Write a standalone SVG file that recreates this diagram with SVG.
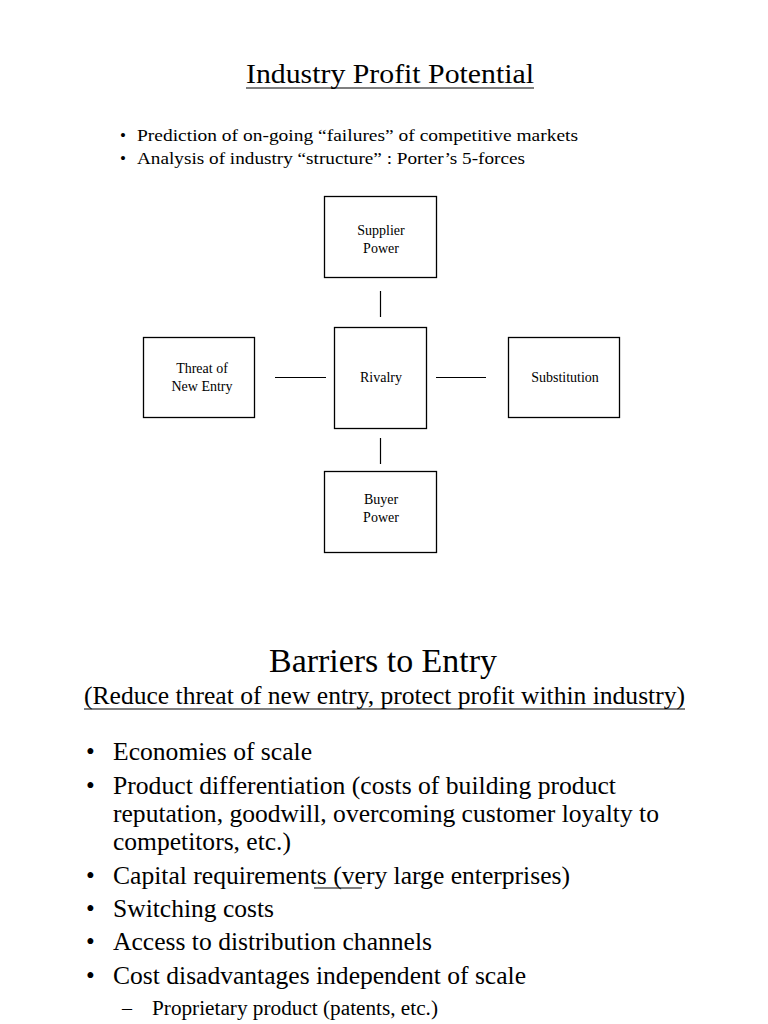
<svg xmlns="http://www.w3.org/2000/svg" width="768" height="1024" viewBox="0 0 768 1024">
<style>
text{font-family:"Liberation Serif",serif;fill:#000}
.box{fill:#fff;stroke:#000;stroke-width:1.3}
.s{font-size:14px;text-anchor:middle}
.b{font-size:17px}
.l{font-size:25px}
line{stroke:#000;stroke-width:1.2}
</style>
<rect width="768" height="1024" fill="#fff"/>
<text x="246" y="83" font-size="27" textLength="288" lengthAdjust="spacingAndGlyphs">Industry Profit Potential</text>
<line x1="246" y1="88" x2="534" y2="88"/>
<text class="b" x="120" y="141">•</text><text class="b" x="137" y="141" textLength="441" lengthAdjust="spacingAndGlyphs">Prediction of  on-going “failures” of competitive markets</text>
<text class="b" x="120" y="164">•</text><text class="b" x="137" y="164" textLength="388" lengthAdjust="spacingAndGlyphs">Analysis of industry “structure” : Porter’s 5-forces</text>
<g id="supplier"><rect class="box" x="324.5" y="196.5" width="112" height="81"/><text class="s" x="381" y="235">Supplier</text><text class="s" x="381" y="253">Power</text></g>
<g id="threat"><rect class="box" x="143.5" y="337.5" width="111" height="80"/><text class="s" x="202" y="373">Threat of</text><text class="s" x="202" y="391">New Entry</text></g>
<g id="rivalry"><rect class="box" x="334.5" y="327.5" width="92" height="101"/><text class="s" x="381" y="382">Rivalry</text></g>
<g id="substitution"><rect class="box" x="508.5" y="337.5" width="111" height="80"/><text class="s" x="565" y="382">Substitution</text></g>
<g id="buyer"><rect class="box" x="324.5" y="471.5" width="112" height="81"/><text class="s" x="381" y="504">Buyer</text><text class="s" x="381" y="522">Power</text></g>
<g id="connectors">
<line x1="380.5" y1="291" x2="380.5" y2="317"/>
<line x1="380.5" y1="438" x2="380.5" y2="464"/>
<line x1="275" y1="377.5" x2="326" y2="377.5"/>
<line x1="436" y1="377.5" x2="486" y2="377.5"/>
</g>
<text x="269" y="672" font-size="34" textLength="228" lengthAdjust="spacingAndGlyphs">Barriers to Entry</text>
<text x="84" y="704" font-size="25" textLength="601" lengthAdjust="spacingAndGlyphs">(Reduce threat of new entry, protect profit within industry)</text>
<line x1="84" y1="709" x2="685" y2="709"/>
<text class="l" x="86" y="760">•</text><text class="l" x="113" y="760" textLength="199" lengthAdjust="spacingAndGlyphs">Economies of scale</text>
<text class="l" x="86" y="794">•</text><text class="l" x="113" y="794" textLength="503" lengthAdjust="spacingAndGlyphs">Product differentiation (costs of building product</text>
<text class="l" x="113" y="822" textLength="546" lengthAdjust="spacingAndGlyphs">reputation, goodwill, overcoming customer loyalty to</text>
<text class="l" x="113" y="850" textLength="178" lengthAdjust="spacingAndGlyphs">competitors, etc.)</text>
<text class="l" x="86" y="884">•</text><text class="l" x="113" y="884" textLength="457" lengthAdjust="spacingAndGlyphs">Capital requirements (very large enterprises)</text>
<line x1="314" y1="888" x2="362" y2="888"/>
<text class="l" x="86" y="917">•</text><text class="l" x="113" y="917" textLength="161" lengthAdjust="spacingAndGlyphs">Switching costs</text>
<text class="l" x="86" y="950">•</text><text class="l" x="113" y="950" textLength="319" lengthAdjust="spacingAndGlyphs">Access to distribution channels</text>
<text class="l" x="86" y="984">•</text><text class="l" x="113" y="984" textLength="413" lengthAdjust="spacingAndGlyphs">Cost disadvantages independent of scale</text>
<text x="122" y="1015" font-size="20">–</text><text x="152" y="1015" font-size="20" textLength="286" lengthAdjust="spacingAndGlyphs">Proprietary product (patents, etc.)</text>
</svg>
